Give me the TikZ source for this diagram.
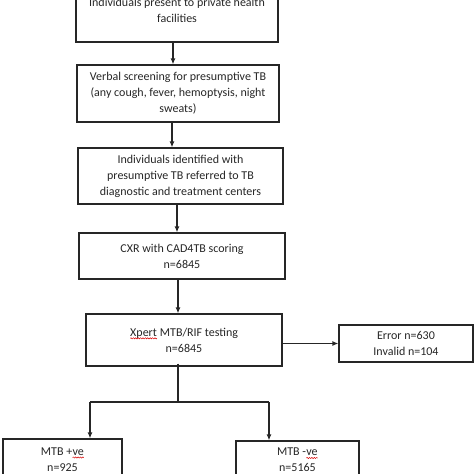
\documentclass[tikz,border=0pt]{standalone}
\usepackage{fontspec}
\setmainfont{Carlito}
\usetikzlibrary{arrows.meta,decorations.pathmorphing}
\newcommand\redsquig[1]{\tikz[baseline=(sq.base)]{\node[inner sep=0pt,outer sep=0pt,draw=none,minimum width=0pt,minimum height=0pt] (sq) {#1};\draw[red!85!black,line width=0.5pt,decorate,decoration={snake,amplitude=0.6pt,segment length=2.4pt}] ([yshift=-2.2pt]sq.base west) -- ([yshift=-2.2pt]sq.base east);}}
\begin{document}
\begin{tikzpicture}[x=1pt,y=-1pt,
  box/.style={draw=black!85,line width=1.2pt,align=center,inner sep=2pt,font=\fontsize{12}{16}\selectfont,text=black!85},
  arr/.style={draw=black!85,line width=1.2pt,-{Latex[length=6pt,width=5pt]}},
  ln/.style={draw=black!85,line width=1.2pt}]
\useasboundingbox (0,0) rectangle (474,474);
\clip (0,0) rectangle (474,474);
\node[box,minimum width=202pt,minimum height=64pt] (b1) at (177,10) {Individuals present to private health\\facilities};
\node[box,minimum width=202pt,minimum height=57pt] (b2) at (178,93.5) {Verbal screening for presumptive TB\\(any cough, fever, hemoptysis, night\\sweats)};
\node[box,minimum width=205pt,minimum height=56pt] (b3) at (180.5,176) {Individuals identified with\\presumptive TB referred to TB\\diagnostic and treatment centers};
\node[box,minimum width=206pt,minimum height=46pt] (b4) at (182,256) {CXR with CAD4TB scoring\\n=6845};
\node[box,minimum width=196pt,minimum height=52pt] (b5) at (184,340) {\redsquig{Xpert} MTB/RIF testing\\n=6845};
\node[box,minimum width=134pt,minimum height=37pt] (b6) at (406,343.5) {Error n=630\\Invalid n=104};
\node[box,minimum width=119pt,minimum height=41pt] (b7) at (62.5,459.5) {MTB +\redsquig{ve}\\n=925};
\node[box,minimum width=123pt,minimum height=38pt] (b8) at (297.5,460) {MTB -\redsquig{ve}\\n=5165};
\coordinate (j0) at (178,402);
\coordinate (j1) at (90,402);
\coordinate (j2) at (269,402);
\draw[arr] ([xshift=-4pt]b1.south) -- ([xshift=-4pt]b1.south |- b2.north);
\draw[arr] ([xshift=-6pt]b2.south) -- ([xshift=-6pt]b2.south |- b3.north);
\draw[arr] ([xshift=-3.5pt]b3.south) -- ([xshift=-3.5pt]b3.south |- b4.north);
\draw[arr] ([xshift=-4pt]b4.south) -- ([xshift=-4pt]b4.south |- b5.north);
\draw[arr] (b5.east |- b6.west) -- (b6.west);
\draw[ln] ([shift={(-6pt,3pt)}]b5.south) -- (j0);
\draw[ln] (j1) -- (j2);
\draw[arr] (j1) -- (j1 |- b7.north);
\draw[arr] (j2) -- (j2 |- b8.north);
\end{tikzpicture}
\end{document}
